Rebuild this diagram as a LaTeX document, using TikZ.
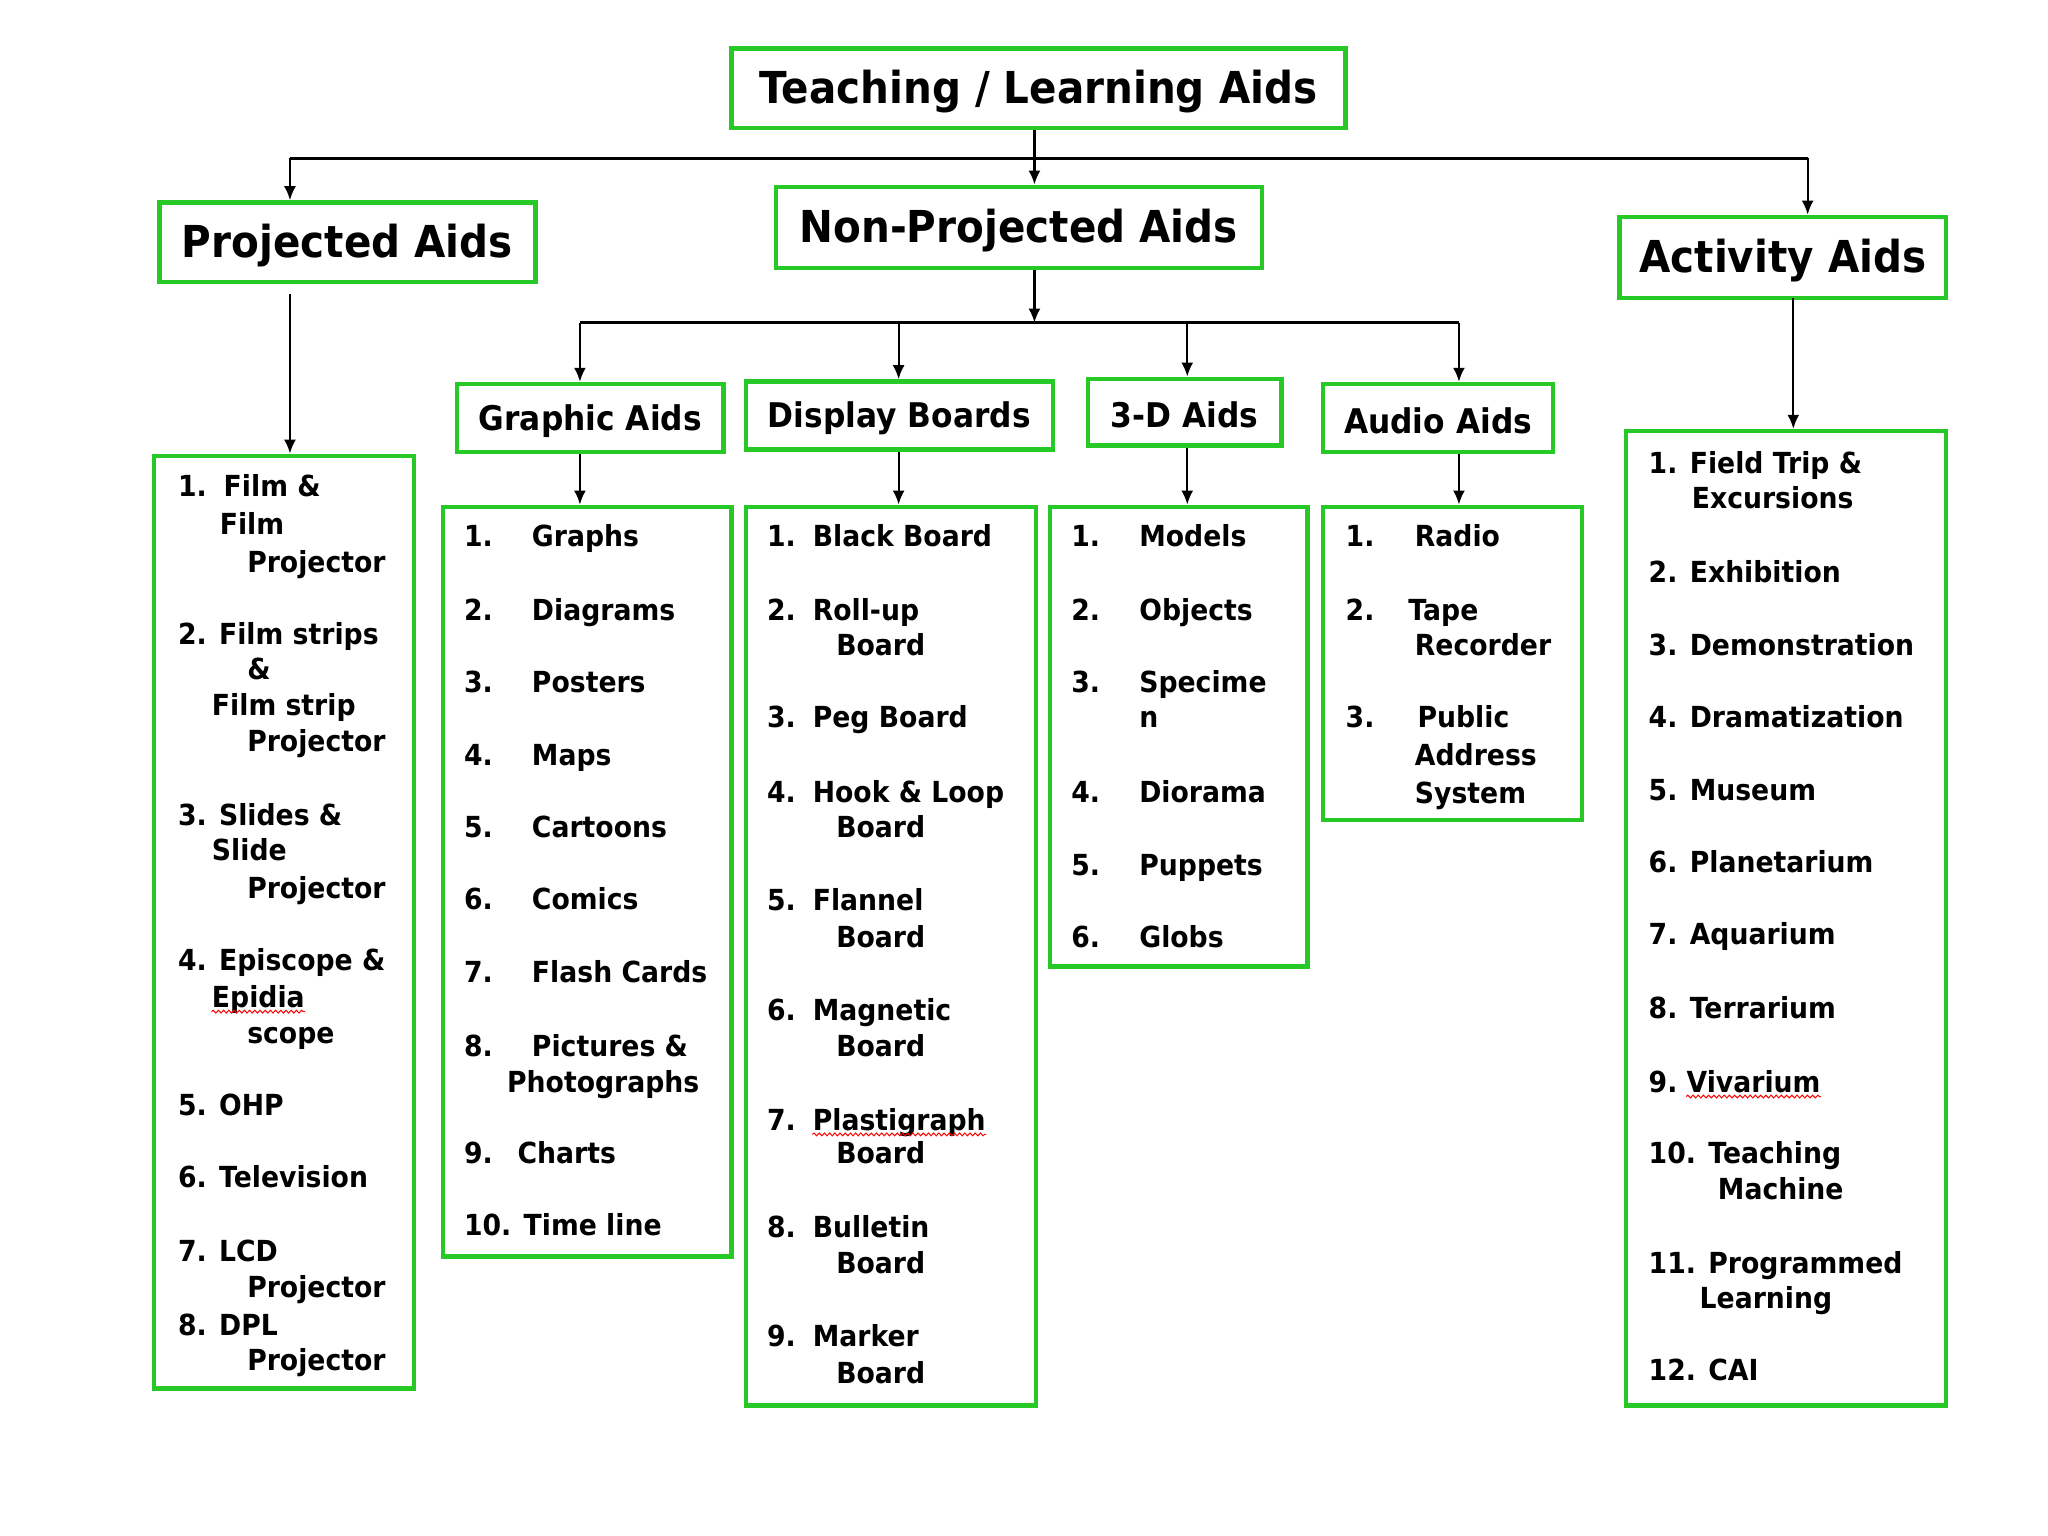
\documentclass[tikz,border=0pt]{standalone}
\usepackage{fontspec}
\setmainfont{DejaVu Sans}[FakeStretch=0.92]
\usetikzlibrary{arrows.meta,decorations.pathmorphing}
\definecolor{gboxc}{RGB}{38,201,38}
\newlength\pu \setlength\pu{0.6531pt}
\newcommand\lowr[1]{\raisebox{-1.5pt}[\height][\depth]{#1}}
\tikzset{
 gbox/.style={draw=gboxc, line width=2.2pt, fill=white, inner sep=0pt},
 head/.style={gbox, font=\bfseries\fontsize{22}{26}\selectfont},
 subh/.style={gbox, font=\bfseries\fontsize{17}{20}\selectfont},
 listbox/.style={gbox},
 item/.style={anchor=mid west, inner sep=0pt, yshift=-2.6pt, font=\bfseries\fontsize{14.5}{17}\selectfont},
 conn/.style={line width=1.1pt, black},
 bus/.style={line width=1.5pt, black},
 arr/.style={conn, -{Latex[length=7pt,width=6pt]}},
 wavy/.style={red, line width=0.5pt, decorate, decoration={snake, amplitude=0.7pt, segment length=2.6pt}}
}
\newcommand\li[4]{\node[item] (#1) at (#2,#3) {#4};}
\newcommand\nb[2]{\makebox[#1\pu][l]{#2}}
\newcommand\bx[6]{\node[#1, minimum width=#5*0.6531pt, minimum height=#6*0.6531pt] (#2) at (#3,#4) {};}
\begin{document}
\begin{tikzpicture}[x=0.6531pt, y=-0.6531pt]
\useasboundingbox (0,0) rectangle (1568,1176);
% headings
\node[head, minimum width=470*0.6531pt, minimum height=61*0.6531pt] (T) at (795,67.5) {\lowr{Teaching / Learning Aids}};
\node[head, minimum width=288*0.6531pt, minimum height=61*0.6531pt] (PA) at (266,185.5) {\lowr{Projected Aids}};
\node[head, minimum width=372*0.6531pt, minimum height=62*0.6531pt] (NP) at (780,174) {\lowr{Non-Projected Aids}};
\node[head, minimum width=250*0.6531pt, minimum height=62*0.6531pt] (AA) at (1365,197) {\lowr{Activity Aids}};
\node[subh, minimum width=204*0.6531pt, minimum height=52*0.6531pt] (GA) at (452,320) {\lowr{Graphic Aids}};
\node[subh, minimum width=235*0.6531pt, minimum height=52*0.6531pt] (DB) at (688.5,318) {\lowr{Display Boards}};
\node[subh, minimum width=148*0.6531pt, minimum height=51*0.6531pt] (TD) at (907,315.5) {\lowr{3-D Aids}};
\node[subh, minimum width=176*0.6531pt, minimum height=52*0.6531pt] (AU) at (1101,320) {\lowr{Audio Aids}};
% list boxes
\bx{listbox}{PL}{217.5}{706}{199}{714}
\bx{listbox}{GL}{449.5}{675}{221}{574}
\bx{listbox}{DL}{682}{732}{222}{688}
\bx{listbox}{SL}{902.5}{564}{197}{352}
\bx{listbox}{AL}{1112}{508}{198}{240}
\bx{listbox}{ACL}{1367.5}{703}{245}{746}
% connectors level 1
\coordinate (b1) at (792,121);
\coordinate (b1L) at (222,121);
\coordinate (b1R) at (1384,121);
\draw[conn] (T.south -| b1) -- (b1);
\draw[bus] (b1L) -- (b1R);
\draw[arr] (b1) -- (NP.north -| b1);
\draw[arr] (b1L) -- (PA.north -| b1L);
\draw[arr] (b1R) -- (AA.north -| b1R);
\coordinate (pa1) at (222,225);
\draw[arr] (pa1) -- (PL.north -| pa1);
\coordinate (aa1) at (1373,228);
\draw[arr] (aa1) -- (ACL.north -| aa1);
% connectors level 2
\coordinate (b2) at (792,247);
\coordinate (b2L) at (444,247);
\coordinate (b2R) at (1117,247);
\coordinate (b2a) at (688,247);
\coordinate (b2b) at (909,247);
\draw[arr] (NP.south -| b2) -- (b2);
\draw[bus] (b2L) -- (b2R);
\draw[arr] (b2L) -- (GA.north -| b2L);
\draw[arr] (b2a) -- (DB.north -| b2a);
\draw[arr] (b2b) -- (TD.north -| b2b);
\draw[arr] (b2R) -- (AU.north -| b2R);
\draw[arr] (GA.south -| b2L) -- (GL.north -| b2L);
\draw[arr] (DB.south -| b2a) -- (DL.north -| b2a);
\draw[arr] (TD.south -| b2b) -- (SL.north -| b2b);
\draw[arr] (AU.south -| b2R) -- (AL.north -| b2R);
% Projected list
\li{p1a}{136}{372}{\nb{35}{1.}Film \&}
\li{p1b}{168}{401}{Film}
\li{p1c}{189}{430}{Projector}
\li{p2a}{136}{485}{2. Film strips}
\li{p2b}{189}{512}{\&}
\li{p2c}{162}{540}{Film strip}
\li{p2d}{189}{567}{Projector}
\li{p3a}{136}{624}{3. Slides \&}
\li{p3b}{162}{651}{Slide}
\li{p3c}{189}{680}{Projector}
\li{p4a}{136}{735}{4. Episcope \&}
\li{p4b}{162}{763}{Epidia}
\li{p4c}{189}{791}{scope}
\li{p5}{136}{846}{5. OHP}
\li{p6}{136}{901}{6. Television}
\li{p7a}{136}{958}{7. LCD}
\li{p7b}{189}{985}{Projector}
\li{p8a}{136}{1014}{8. DPL}
\li{p8b}{189}{1041}{Projector}
% Graphic list
\li{g1}{355}{410}{\nb{52}{1.}Graphs}
\li{g2}{355}{467}{\nb{52}{2.}Diagrams}
\li{g3}{355}{522}{\nb{52}{3.}Posters}
\li{g4}{355}{578}{\nb{52}{4.}Maps}
\li{g5}{355}{633}{\nb{52}{5.}Cartoons}
\li{g6}{355}{688}{\nb{52}{6.}Comics}
\li{g7}{355}{744}{\nb{52}{7.}Flash Cards}
\li{g8a}{355}{801}{\nb{52}{8.}Pictures \&}
\li{g8b}{388}{828}{Photographs}
\li{g9}{355}{883}{\nb{41}{9.}Charts}
\li{g10}{355}{938}{10. Time line}
% Display list
\li{d1}{587}{410}{\nb{35}{1.}Black Board}
\li{d2a}{587}{467}{\nb{35}{2.}Roll-up}
\li{d2b}{640}{494}{Board}
\li{d3}{587}{549}{\nb{35}{3.}Peg Board}
\li{d4a}{587}{606}{\nb{35}{4.}Hook \& Loop}
\li{d4b}{640}{633}{Board}
\li{d5a}{587}{689}{\nb{35}{5.}Flannel}
\li{d5b}{640}{717}{Board}
\li{d6a}{587}{773}{\nb{35}{6.}Magnetic}
\li{d6b}{640}{801}{Board}
\li{d7n}{587}{857}{7.}
\li{d7a}{622}{857}{Plastigraph}
\li{d7b}{640}{883}{Board}
\li{d8a}{587}{939}{\nb{35}{8.}Bulletin}
\li{d8b}{640}{967}{Board}
\li{d9a}{587}{1023}{\nb{35}{9.}Marker}
\li{d9b}{640}{1051}{Board}
% 3-D list
\li{s1}{820}{410}{\nb{52}{1.}Models}
\li{s2}{820}{467}{\nb{52}{2.}Objects}
\li{s3a}{820}{522}{\nb{52}{3.}Specime}
\li{s3b}{872}{549}{n}
\li{s4}{820}{606}{\nb{52}{4.}Diorama}
\li{s5}{820}{662}{\nb{52}{5.}Puppets}
\li{s6}{820}{717}{\nb{52}{6.}Globs}
% Audio list
\li{a1}{1030}{410}{\nb{53}{1.}Radio}
\li{a2a}{1030}{467}{\nb{48}{2.}Tape}
\li{a2b}{1083}{494}{Recorder}
\li{a3a}{1030}{549}{\nb{55}{3.}Public}
\li{a3b}{1083}{578}{Address}
\li{a3c}{1083}{607}{System}
% Activity list
\li{c1a}{1262}{354}{1. Field Trip \&}
\li{c1b}{1295}{381}{Excursions}
\li{c2}{1262}{438}{2. Exhibition}
\li{c3}{1262}{494}{3. Demonstration}
\li{c4}{1262}{549}{4. Dramatization}
\li{c5}{1262}{605}{5. Museum}
\li{c6}{1262}{660}{6. Planetarium}
\li{c7}{1262}{715}{7. Aquarium}
\li{c8}{1262}{772}{8. Terrarium}
\li{c9n}{1262}{828}{9.}
\li{c9}{1291}{828}{Vivarium}
\li{c10a}{1262}{883}{10. Teaching}
\li{c10b}{1315}{910}{Machine}
\li{c11a}{1262}{967}{11. Programmed}
\li{c11b}{1301}{994}{Learning}
\li{c12}{1262}{1049}{12. CAI}
% spell-check underlines
\draw[wavy] ([yshift=-2.2pt]p4b.base west) -- ([yshift=-2.2pt]p4b.base east);
\draw[wavy] ([yshift=-2.2pt]d7a.base west) -- ([yshift=-2.2pt]d7a.base east);
\draw[wavy] ([yshift=-2.2pt]c9.base west) -- ([yshift=-2.2pt]c9.base east);
\end{tikzpicture}
\end{document}
